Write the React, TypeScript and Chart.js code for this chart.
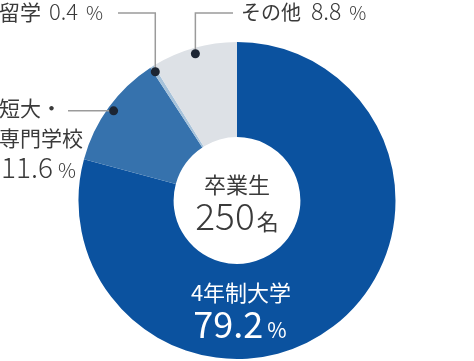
import React, { useEffect, useRef } from "react";
import { Chart, registerables } from "chart.js";
Chart.register(...registerables);

const categories = ["4年制大学", "短大・専門学校", "留学", "その他"];
const shares = [79.2, 11.6, 0.4, 8.8];
const sliceColors = ["#0b529f", "#3672ad", "#a6c2da", "#dde1e6"];
const centerTitle = "卒業生";
const centerCount = "250";
const centerUnit = "名";

const FONT = "'Noto Sans CJK JP', 'Noto Sans', sans-serif";
const TEXT = "#3a3a3a";

type Run = { t: string; s: number; w?: number; gap?: number };

function runsWidth(ctx: CanvasRenderingContext2D, runs: Run[]) {
  let w = 0;
  runs.forEach((r, i) => {
    ctx.font = `${r.w ?? 400} ${r.s}px ${FONT}`;
    w += ctx.measureText(r.t).width + (i < runs.length - 1 ? r.gap ?? 0 : 0);
  });
  return w;
}

function drawRuns(
  ctx: CanvasRenderingContext2D,
  runs: Run[],
  x: number,
  baseline: number,
  align: "left" | "center",
  color: string
) {
  let cx = align === "center" ? x - runsWidth(ctx, runs) / 2 : x;
  ctx.fillStyle = color;
  ctx.textAlign = "left";
  ctx.textBaseline = "alphabetic";
  runs.forEach((r) => {
    ctx.font = `${r.w ?? 400} ${r.s}px ${FONT}`;
    ctx.fillText(r.t, cx, baseline);
    cx += ctx.measureText(r.t).width + (r.gap ?? 0);
  });
}

const labelPlugin = {
  id: "labels",
  afterDraw(chart: any) {
    const ctx: CanvasRenderingContext2D = chart.ctx;
    const meta = chart.getDatasetMeta(0);
    const pts = meta.data.map((arc: any) => {
      const p = arc.getProps(["x", "y", "startAngle", "endAngle", "outerRadius", "innerRadius"], true);
      const mid = (p.startAngle + p.endAngle) / 2;
      const r = p.outerRadius - 6;
      return { x: p.x + Math.cos(mid) * r, y: p.y + Math.sin(mid) * r, cx: p.x, cy: p.y };
    });
    const c = pts[0];
    ctx.save();
    // leader lines
    ctx.strokeStyle = "#9b9b9b";
    ctx.lineWidth = 1.5;
    ctx.beginPath();
    // 留学
    ctx.moveTo(pts[2].x, pts[2].y);
    ctx.lineTo(pts[2].x, 13);
    ctx.lineTo(118, 13);
    // その他
    ctx.moveTo(pts[3].x, pts[3].y);
    ctx.lineTo(pts[3].x, 13);
    ctx.lineTo(233, 13);
    // 短大
    ctx.moveTo(pts[1].x, pts[1].y);
    ctx.lineTo(68, pts[1].y);
    ctx.stroke();
    // dots
    ctx.fillStyle = "#1c2533";
    [1, 2, 3].forEach((i) => {
      ctx.beginPath();
      ctx.arc(pts[i].x, pts[i].y, 4.5, 0, Math.PI * 2);
      ctx.fill();
    });

    // outer labels
    drawRuns(ctx, [{ t: "留学", s: 21, gap: 8 }, { t: "0.4", s: 22, w: 300, gap: 8 }, { t: "%", s: 19, w: 300 }], -1, 20, "left", TEXT);
    drawRuns(ctx, [{ t: "その他", s: 20, gap: 10 }, { t: "8.8", s: 23, w: 300, gap: 8 }, { t: "%", s: 19, w: 300 }], 241, 20, "left", TEXT);
    drawRuns(ctx, [{ t: "短大・", s: 21 }], -1, 116, "left", TEXT);
    drawRuns(ctx, [{ t: "専門学校", s: 21 }], -1, 146, "left", TEXT);
    drawRuns(ctx, [{ t: "11.6", s: 28, w: 300, gap: 5 }, { t: "%", s: 20, w: 300 }], 1, 178, "left", TEXT);

    // center
    drawRuns(ctx, [{ t: centerTitle, s: 22 }], c.cx, 193, "center", TEXT);
    drawRuns(ctx, [{ t: centerCount, s: 37, w: 300, gap: 2 }, { t: centerUnit, s: 22 }], c.cx, 230, "center", TEXT);

    // 4年制大学 label inside
    drawRuns(ctx, [{ t: categories[0], s: 22 }], c.cx + 4, 301, "center", "#ffffff");
    drawRuns(
      ctx,
      [{ t: shares[0].toFixed(1), s: 36, gap: 4 }, { t: "%", s: 21 }],
      c.cx + 3,
      338,
      "center",
      "#ffffff"
    );
    ctx.restore();
  },
};

export default function App() {
  const ref = useRef<HTMLCanvasElement | null>(null);
  useEffect(() => {
    document.body.style.margin = "0";
    if (!ref.current) return;
    const chart = new Chart(ref.current, {
      type: "doughnut",
      data: {
        labels: categories,
        datasets: [
          {
            data: shares,
            backgroundColor: sliceColors,
            borderWidth: 0,
          },
        ],
      },
      options: {
        responsive: false,
        maintainAspectRatio: false,
        devicePixelRatio: 1,
        animation: false,
        cutout: "40%",
        layout: { padding: { top: 42, bottom: 2, left: 0, right: 0 } },
        plugins: { legend: { display: false }, tooltip: { enabled: false } },
      },
      plugins: [labelPlugin],
    });
    return () => chart.destroy();
  }, []);
  return (
    <div style={{ width: 474, height: 361 }}>
      <canvas ref={ref} width={474} height={361} style={{ display: "block" }} />
    </div>
  );
}
